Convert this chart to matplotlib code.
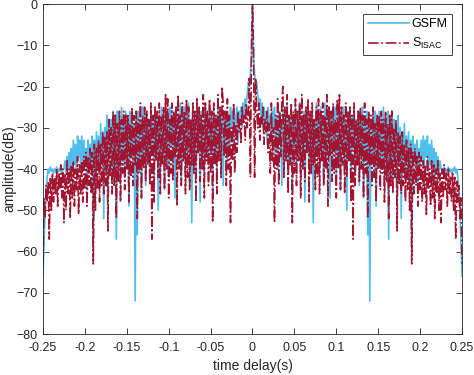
import numpy as np
import matplotlib
matplotlib.use("Agg")
import matplotlib.pyplot as plt

plt.rcParams['font.family'] = ['Liberation Sans', 'DejaVu Sans']
plt.rcParams['mathtext.fontset'] = 'custom'
plt.rcParams['mathtext.rm'] = 'Liberation Sans'

# delay step of the read-off samples (right half, mirrored since autocorrelation is symmetric)
step = 0.00125
peak_db = 0.0

# GSFM, x = 0.00125 .. 0.25
gsfm_half = [
    -13, -17, -20, -19, -22, -24, -23, -27, -24, -30, -25, -28, -26, -34, -25, -29, -27, -33, -26, -30,
    -25, -36, -27, -40, -26, -33, -28, -44, -25, -37, -29, -35, -24, -41, -27, -38, -26, -46, -28, -34,
    -25, -39, -27, -36, -24, -42, -28, -37, -26, -48, -27, -35, -25, -40, -29, -38, -26, -53, -28, -36,
    -24, -37, -26, -41, -25, -35, -27, -44, -24, -38, -28, -36, -25, -47, -26, -39, -27, -34, -25, -42,
    -26, -38, -25, -45, -27, -36, -25, -40, -28, -50, -26, -37, -25, -43, -27, -35, -26, -41, -28, -38,
    -26, -44, -27, -36, -25, -47, -28, -38, -26, -56, -27, -72, -29, -39, -27, -37, -26, -49, -28, -36,
    -26, -40, -27, -38, -25, -44, -28, -37, -26, -57, -27, -39, -26, -42, -28, -36, -29, -48, -27, -38,
    -30, -52, -31, -38, -29, -41, -32, -39, -31, -43, -33, -59, -32, -38, -34, -40, -33, -45, -35, -39,
    -33, -38, -32, -40, -33, -37, -32, -41, -34, -39, -33, -40, -35, -44, -36, -40, -37, -41, -38, -40,
    -40, -41, -39.5, -40.5, -40, -41, -39.5, -40.5, -40, -41, -40, -40.5, -39.5, -41, -40, -42, -45, -50, -58, -66,
]

# S_ISAC, x = 0.00125 .. 0.25
sisac_half = [
    -11, -42, -18, -26, -30, -24, -33, -27, -29, -25, -34, -28, -31, -26, -36, -29, -41, -24, -38, -30,
    -53, -27, -40, -23, -44, -26, -37, -24, -20, -42, -25, -38, -22, -46, -27, -39, -24, -53, -26, -41,
    -23, -44, -26, -38, -24, -47, -22, -40, -27, -43, -25, -36, -23, -48, -26, -41, -24, -39, -28, -45,
    -25, -42, -23, -46, -26, -38, -24, -44, -27, -40, -22, -49, -25, -37, -26, -43, -24, -41, -28, -47,
    -23, -40, -22, -45, -25, -39, -27, -46, -24, -42, -26, -38, -25, -48, -27, -57, -24, -44, -28, -39,
    -26, -43, -25, -40, -27, -47, -24, -41, -28, -52, -26, -39, -27, -44, -25, -42, -29, -48, -27, -40,
    -27, -45, -26, -41, -28, -48, -26, -43, -29, -52, -27, -44, -26, -46, -30, -42, -28, -55, -31, -44,
    -32, -46, -31, -44, -34, -48, -33, -45, -35, -50, -34, -63, -36, -46, -35, -44, -37, -49, -36, -45,
    -37, -48, -38, -46, -39, -51, -37, -45, -40, -49, -38, -47, -39, -52, -40, -46, -38, -50, -41, -53,
    -40, -47, -39, -45, -41, -49, -40, -46, -42, -48, -41, -50, -42, -57, -43, -48, -44, -52, -47, -63,
]

xticks = [-0.25, -0.2, -0.15, -0.1, -0.05, 0, 0.05, 0.1, 0.15, 0.2, 0.25]
xticklabels = ['-0.25', '-0.2', '-0.15', '-0.1', '-0.05', '0', '0.05', '0.1', '0.15', '0.2', '0.25']
yticks = [-80, -70, -60, -50, -40, -30, -20, -10, 0]


def mirror(half):
    half = np.asarray(half, dtype=float)
    return np.concatenate([half[::-1], [peak_db], half])


n = len(gsfm_half)
tau = np.arange(-n, n + 1) * step
gsfm = mirror(gsfm_half)
sisac = mirror(sisac_half)

fig = plt.figure(figsize=(4.74, 3.75), dpi=100)
ax = fig.add_axes([0.0907, 0.1093, 0.884, 0.880])

ax.plot(tau, gsfm, color='#4DBEEE', lw=1.2, label='GSFM')
ax.plot(tau, sisac, color='#A2142F', lw=1.2, ls='-.', label=r'S$_{\mathrm{ISAC}}$')

ax.set_xlim(-0.25, 0.25)
ax.set_ylim(-80, 0)
ax.set_xticks(xticks)
ax.set_xticklabels(xticklabels)
ax.set_yticks(yticks)
ax.tick_params(direction='in', top=True, right=True, length=4, labelsize=9,
               colors='#262626', width=0.6)
ax.tick_params(axis='x', pad=6)
ax.tick_params(axis='y', pad=4)
for s in ax.spines.values():
    s.set_color('#262626')
    s.set_linewidth(0.6)

ax.set_xlabel('time delay(s)', fontsize=10, color='#262626', labelpad=3)
ax.set_ylabel('amplitude(dB)', fontsize=10, color='#262626', labelpad=0)

leg = ax.legend(loc='upper right', fontsize=9, handlelength=3.3, handletextpad=0.2,
                fancybox=False, framealpha=1, edgecolor='#262626', borderpad=0.35,
                labelspacing=0.45, borderaxespad=0, bbox_to_anchor=(0.976, 0.97))
leg.get_frame().set_linewidth(0.6)

fig.savefig('out.png', dpi=100)
